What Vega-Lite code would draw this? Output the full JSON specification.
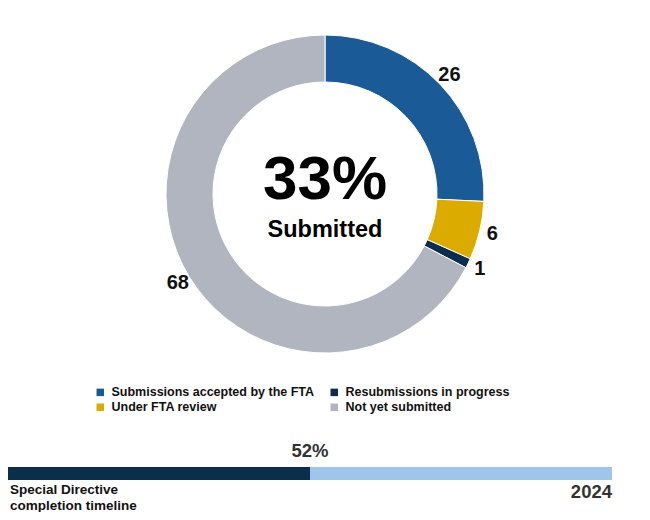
{
  "$schema": "https://vega.github.io/schema/vega-lite/v6.json",
  "padding": {"left": 8, "top": 33, "right": 0, "bottom": 0},
  "autosize": {"type": "pad"},
  "bounds": "flush",
  "spacing": 114,
  "config": {
    "view": {"stroke": null},
    "font": "Liberation Sans"
  },
  "datasets": {
    "status": [
      {"category": "Submissions accepted by the FTA", "count": 26, "order": 1},
      {"category": "Under FTA review", "count": 6, "order": 2},
      {"category": "Resubmissions in progress", "count": 1, "order": 3},
      {"category": "Not yet submitted", "count": 68, "order": 4}
    ],
    "center": [
      {"big": "33%", "small": "Submitted"}
    ],
    "timeline": [
      {"stage": "Elapsed", "start": 0, "end": 50, "track": "t"},
      {"stage": "Remaining", "start": 50, "end": 100, "track": "t"}
    ],
    "timelineLabels": [
      {"pos": 50, "label": "52%", "track": "t"}
    ],
    "timelineEnds": [
      {"pos": 0, "label": ["Special Directive", "completion timeline"], "track": "t", "side": "left"},
      {"pos": 100, "label": "2024", "track": "t", "side": "right"}
    ]
  },
  "resolve": {"scale": {"color": "independent"}, "legend": {"color": "independent"}},
  "vconcat": [
    {
      "width": 634,
      "height": 318,
      "layer": [
        {
          "data": {"name": "status"},
          "mark": {"type": "arc", "outerRadius": 159, "innerRadius": 112, "stroke": "white", "strokeWidth": 1},
          "encoding": {
            "theta": {"field": "count", "type": "quantitative", "stack": true},
            "order": {"field": "order", "type": "quantitative"},
            "color": {
              "field": "category",
              "type": "nominal",
              "scale": {
                "domain": ["Submissions accepted by the FTA", "Resubmissions in progress", "Under FTA review", "Not yet submitted"],
                "range": ["#1a5b97", "#0b2e4f", "#dbab00", "#b1b5bf"]
              },
              "legend": {
                "orient": "none",
                "legendX": 86,
                "legendY": 351,
                "direction": "horizontal",
                "columns": 2,
                "title": null,
                "symbolType": "square",
                "symbolSize": 56,
                "symbolStrokeWidth": 0,
                "labelFont": "Liberation Sans",
                "labelFontWeight": "bold",
                "labelFontSize": 12.5,
                "labelColor": "#111111",
                "labelOffset": 5,
                "labelLimit": 400,
                "columnPadding": 13,
                "rowPadding": 2,
                "padding": 0
              }
            }
          }
        },
        {
          "data": {"name": "status"},
          "mark": {"type": "text", "radius": 172, "font": "Liberation Sans", "fontWeight": "bold", "fontSize": 20, "color": "#111111"},
          "encoding": {
            "theta": {"field": "count", "type": "quantitative", "stack": true},
            "order": {"field": "order", "type": "quantitative"},
            "text": {"field": "count", "type": "quantitative"}
          }
        },
        {
          "data": {"name": "center"},
          "mark": {"type": "text", "font": "Liberation Sans", "fontWeight": "bold", "fontSize": 62, "color": "#000000", "baseline": "middle", "dy": -14},
          "encoding": {"text": {"field": "big", "type": "nominal"}}
        },
        {
          "data": {"name": "center"},
          "mark": {"type": "text", "font": "Liberation Sans", "fontWeight": "bold", "fontSize": 23.5, "color": "#000000", "baseline": "middle", "dy": 36},
          "encoding": {"text": {"field": "small", "type": "nominal"}}
        }
      ]
    },
    {
      "width": 604,
      "height": 13,
      "layer": [
        {
          "data": {"name": "timeline"},
          "mark": {"type": "bar"},
          "encoding": {
            "x": {"field": "start", "type": "quantitative", "scale": {"domain": [0, 100], "nice": false}, "axis": null},
            "x2": {"field": "end"},
            "y": {"field": "track", "type": "nominal", "axis": null, "scale": {"paddingInner": 0, "paddingOuter": 0}},
            "color": {
              "field": "stage",
              "type": "nominal",
              "scale": {"domain": ["Elapsed", "Remaining"], "range": ["#0b2e4d", "#a0c5eb"]},
              "legend": null
            }
          }
        },
        {
          "data": {"name": "timelineLabels"},
          "mark": {"type": "text", "font": "Liberation Sans Narrow, Liberation Sans", "fontWeight": "bold", "fontSize": 18.5, "color": "#333333", "baseline": "middle", "dy": -23},
          "encoding": {
            "x": {"field": "pos", "type": "quantitative"},
            "y": {"field": "track", "type": "nominal"},
            "text": {"field": "label", "type": "nominal"}
          }
        },
        {
          "data": {"name": "timelineEnds"},
          "transform": [{"filter": "datum.side === 'left'"}],
          "mark": {"type": "text", "font": "Liberation Sans", "fontWeight": "bold", "fontSize": 13.5, "color": "#111111", "align": "left", "baseline": "top", "dx": 2, "dy": 9, "lineHeight": 16},
          "encoding": {
            "x": {"field": "pos", "type": "quantitative"},
            "y": {"field": "track", "type": "nominal"},
            "text": {"field": "label"}
          }
        },
        {
          "data": {"name": "timelineEnds"},
          "transform": [{"filter": "datum.side === 'right'"}],
          "mark": {"type": "text", "font": "Liberation Sans Narrow, Liberation Sans", "fontWeight": "bold", "fontSize": 18.5, "color": "#333333", "align": "right", "baseline": "middle", "dy": 18},
          "encoding": {
            "x": {"field": "pos", "type": "quantitative"},
            "y": {"field": "track", "type": "nominal"},
            "text": {"field": "label", "type": "nominal"}
          }
        }
      ]
    }
  ]
}
